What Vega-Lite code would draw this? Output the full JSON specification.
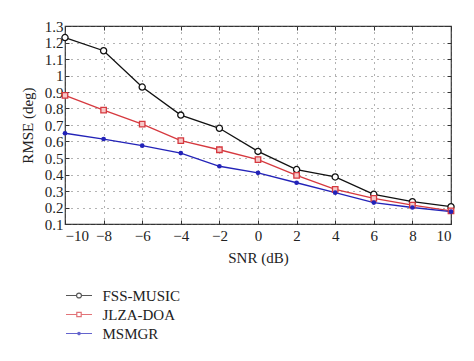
{
  "$schema": "https://vega.github.io/schema/vega-lite/v6.json",
  "width": 386,
  "height": 198,
  "autosize": "none",
  "padding": {"left": 65, "top": 26, "right": 23, "bottom": 137},
  "background": "white",
  "config": {
    "font": "Liberation Serif",
    "view": {"stroke": "#333", "strokeWidth": 1.2},
    "axis": {"labelFont": "Liberation Serif", "titleFont": "Liberation Serif", "labelFontSize": 15, "titleFontSize": 15, "titleFontWeight": "normal", "labelColor": "#222", "titleColor": "#222", "domain": false, "tickColor": "#333"},
    "legend": {"orient": "none", "legendX": 4.5, "legendY": 260, "padding": 0, "symbolSize": 289, "symbolStrokeWidth": 1.2, "labelFont": "Liberation Serif", "labelFontSize": 15, "labelColor": "#222", "labelOffset": 14, "rowPadding": 1}
  },
  "data": {"values": [
    {"snr": -10, "series": "FSS-MUSIC", "rmse": 1.23},
    {"snr": -8, "series": "FSS-MUSIC", "rmse": 1.15},
    {"snr": -6, "series": "FSS-MUSIC", "rmse": 0.93},
    {"snr": -4, "series": "FSS-MUSIC", "rmse": 0.76},
    {"snr": -2, "series": "FSS-MUSIC", "rmse": 0.68},
    {"snr": 0, "series": "FSS-MUSIC", "rmse": 0.54},
    {"snr": 2, "series": "FSS-MUSIC", "rmse": 0.43},
    {"snr": 4, "series": "FSS-MUSIC", "rmse": 0.385},
    {"snr": 6, "series": "FSS-MUSIC", "rmse": 0.28},
    {"snr": 8, "series": "FSS-MUSIC", "rmse": 0.235},
    {"snr": 10, "series": "FSS-MUSIC", "rmse": 0.205},
    {"snr": -10, "series": "JLZA-DOA", "rmse": 0.88},
    {"snr": -8, "series": "JLZA-DOA", "rmse": 0.79},
    {"snr": -6, "series": "JLZA-DOA", "rmse": 0.705},
    {"snr": -4, "series": "JLZA-DOA", "rmse": 0.605},
    {"snr": -2, "series": "JLZA-DOA", "rmse": 0.55},
    {"snr": 0, "series": "JLZA-DOA", "rmse": 0.49},
    {"snr": 2, "series": "JLZA-DOA", "rmse": 0.395},
    {"snr": 4, "series": "JLZA-DOA", "rmse": 0.31},
    {"snr": 6, "series": "JLZA-DOA", "rmse": 0.255},
    {"snr": 8, "series": "JLZA-DOA", "rmse": 0.215},
    {"snr": 10, "series": "JLZA-DOA", "rmse": 0.18},
    {"snr": -10, "series": "MSMGR", "rmse": 0.65},
    {"snr": -8, "series": "MSMGR", "rmse": 0.615},
    {"snr": -6, "series": "MSMGR", "rmse": 0.575},
    {"snr": -4, "series": "MSMGR", "rmse": 0.53},
    {"snr": -2, "series": "MSMGR", "rmse": 0.45},
    {"snr": 0, "series": "MSMGR", "rmse": 0.41},
    {"snr": 2, "series": "MSMGR", "rmse": 0.35},
    {"snr": 4, "series": "MSMGR", "rmse": 0.29},
    {"snr": 6, "series": "MSMGR", "rmse": 0.23},
    {"snr": 8, "series": "MSMGR", "rmse": 0.2},
    {"snr": 10, "series": "MSMGR", "rmse": 0.175}
  ]},
  "layer": [
    {
      "mark": {"type": "line", "strokeWidth": 1.3},
      "encoding": {
        "x": {"field": "snr", "type": "quantitative", "title": "SNR (dB)", "scale": {"domain": [-10, 10], "nice": false},
          "axis": {"values": [-10, -8, -6, -4, -2, 0, 2, 4, 6, 8, 10], "grid": true, "gridDash": [1, 5], "gridColor": "#666", "gridWidth": 1, "tickSize": -4, "labelPadding": 8, "titlePadding": 7}},
        "y": {"field": "rmse", "type": "quantitative", "title": "RMSE (deg)", "scale": {"domain": [0.1, 1.3], "nice": false},
          "axis": {"values": [0.1, 0.2, 0.3, 0.4, 0.5, 0.6, 0.7, 0.8, 0.9, 1.0, 1.1, 1.2, 1.3], "format": ".1~f", "grid": true, "gridDash": [1, 5], "gridColor": "#666", "gridWidth": 1, "tickSize": -4, "labelPadding": 6, "titlePadding": 9}},
        "color": {"field": "series", "type": "nominal", "title": null,
          "scale": {"domain": ["FSS-MUSIC", "JLZA-DOA", "MSMGR"], "range": ["#111111", "#d6393f", "#2323b8"]}}
      }
    },
    {
      "mark": {"type": "line", "opacity": 0},
      "encoding": {
        "x": {"field": "snr", "type": "quantitative", "axis": {"orient": "top", "labels": false, "title": null, "grid": false, "tickSize": -4, "values": [-10, -8, -6, -4, -2, 0, 2, 4, 6, 8, 10]}},
        "y": {"field": "rmse", "type": "quantitative", "axis": {"orient": "right", "labels": false, "title": null, "grid": false, "tickSize": -4, "values": [0.1, 0.2, 0.3, 0.4, 0.5, 0.6, 0.7, 0.8, 0.9, 1.0, 1.1, 1.2, 1.3]}},
        "detail": {"field": "series"}
      }
    },
    {
      "transform": [{"filter": "datum.series === 'FSS-MUSIC'"}],
      "mark": {"type": "point", "shape": "circle", "size": 38, "filled": false, "fill": "white", "fillOpacity": 1, "stroke": "#111111", "strokeWidth": 1.3, "opacity": 1},
      "encoding": {
        "x": {"field": "snr", "type": "quantitative", "axis": null},
        "y": {"field": "rmse", "type": "quantitative", "axis": null}
      }
    },
    {
      "transform": [{"filter": "datum.series === 'JLZA-DOA'"}],
      "mark": {"type": "point", "shape": "square", "size": 30, "filled": false, "fill": "#f6c8c8", "fillOpacity": 1, "stroke": "#d6393f", "strokeWidth": 1.3, "opacity": 1},
      "encoding": {
        "x": {"field": "snr", "type": "quantitative", "axis": null},
        "y": {"field": "rmse", "type": "quantitative", "axis": null}
      }
    },
    {
      "transform": [{"filter": "datum.series === 'MSMGR'"}],
      "mark": {"type": "point", "shape": "circle", "size": 22, "filled": true, "color": "#2323b8", "opacity": 1},
      "encoding": {
        "x": {"field": "snr", "type": "quantitative", "axis": null},
        "y": {"field": "rmse", "type": "quantitative", "axis": null}
      }
    },
    {
      "transform": [{"filter": "datum.snr > 100"}],
      "mark": {"type": "point", "filled": false, "strokeWidth": 1.2},
      "encoding": {
        "x": {"field": "snr", "type": "quantitative", "axis": null},
        "y": {"field": "rmse", "type": "quantitative", "axis": null},
        "color": {"field": "series", "type": "nominal", "title": null},
        "shape": {"field": "series", "type": "nominal", "title": null,
          "scale": {"domain": ["FSS-MUSIC", "JLZA-DOA", "MSMGR"], "range": [
            "M-1.53,0H-0.29M0.29,0H1.53M-0.29,0A0.29,0.29,0,1,0,0.29,0A0.29,0.29,0,1,0,-0.29,0",
            "M-1.53,0H-0.26M0.26,0H1.53M-0.26,-0.26H0.26V0.26H-0.26Z",
            "M-1.53,0H1.53M-0.14,0A0.14,0.14,0,1,0,0.14,0A0.14,0.14,0,1,0,-0.14,0"
          ]}}
      }
    }
  ],
  "resolve": {"axis": {"x": "independent", "y": "independent"}}
}
